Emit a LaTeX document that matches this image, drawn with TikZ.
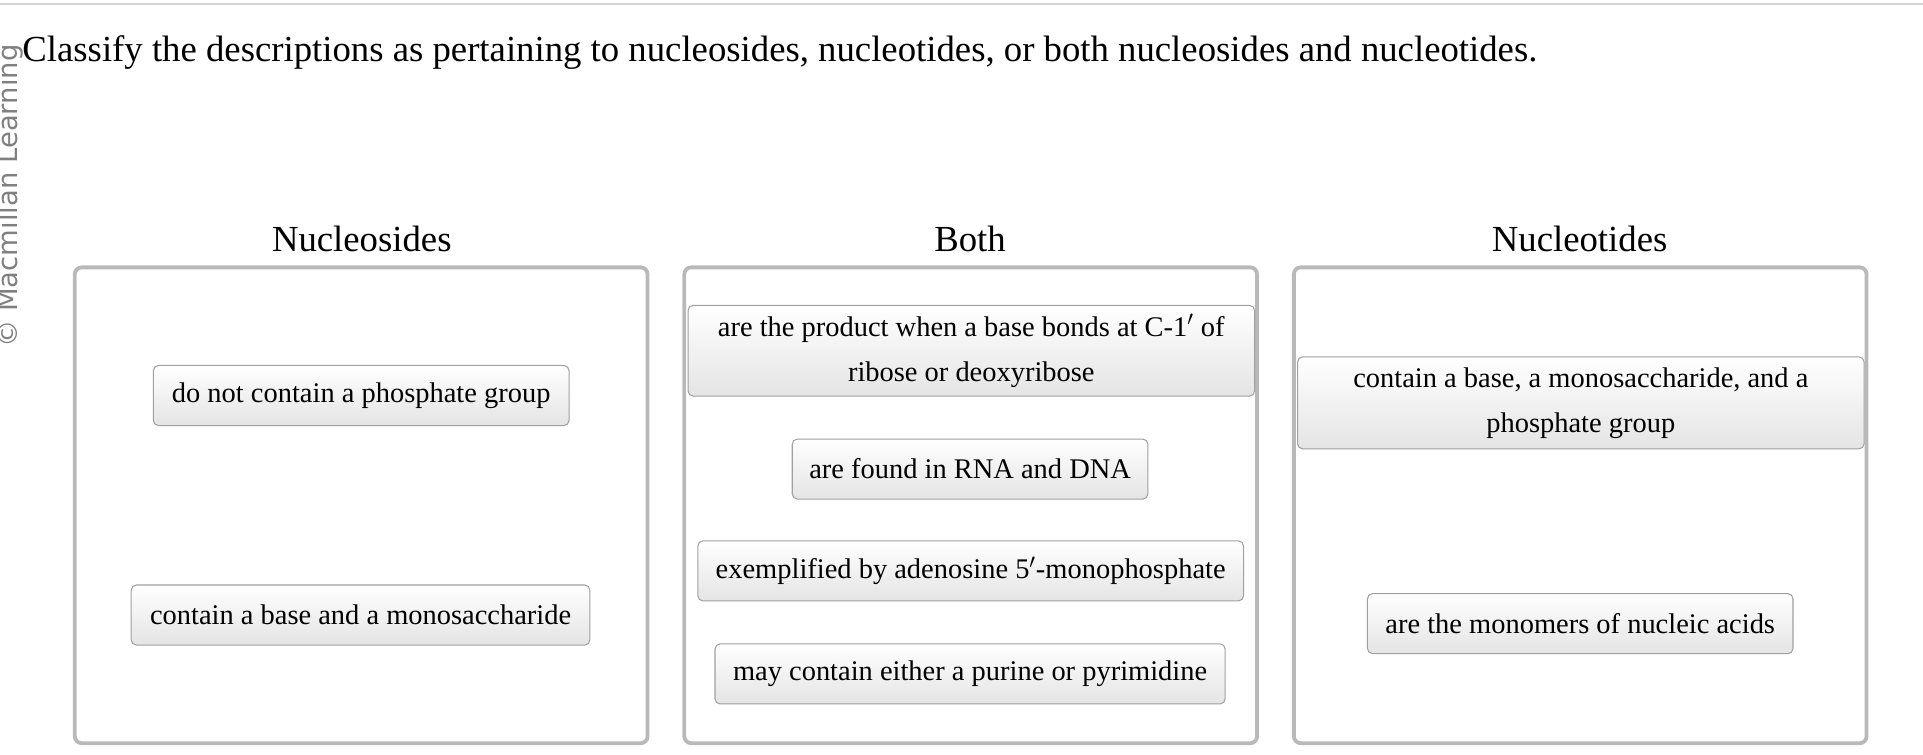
\documentclass[tikz,border=0pt]{standalone}
\usepackage{fontspec}
\setmainfont{Liberation Serif}
\newfontfamily\wmfont{DejaVu Sans}
\usetikzlibrary{positioning}
\definecolor{bordergray}{RGB}{185,185,185}
\definecolor{cardgray}{RGB}{160,160,160}
\definecolor{cardbot}{RGB}{228,228,228}
\tikzset{
  column/.style={draw=bordergray, line width=2.2pt, rounded corners=4pt},
  card/.style={draw=cardgray, line width=0.6pt, rounded corners=3pt, top color=white, bottom color=cardbot,
    font=\fontsize{16.5}{26}\selectfont, align=center, inner sep=0pt},
  header/.style={font=\fontsize{21.3}{24}\selectfont}
}
\begin{document}
\begin{tikzpicture}[x=0.025cm, y=-0.025cm]
\useasboundingbox (0,0) rectangle (1568,615.6);
%top rule
\draw[bordergray!60, line width=1pt] (0,3) -- (1568,3);

%watermark and question
\node[rotate=90, text=gray, font=\wmfont\fontsize{15.9}{18}\selectfont] (wm) at (8,160) {\copyright\ Macmillan Learning};
\node[anchor=base west, font=\fontsize{21.3}{24}\selectfont, inner sep=0pt] (question) at (18,50) {Classify the descriptions as pertaining to nucleosides, nucleotides, or both nucleosides and nucleotides.};

%columns
\draw[column] (61,218) rectangle (528,606);
\draw[column] (558,218) rectangle (1025,606);
\draw[column] (1055,218) rectangle (1522,606);
\node[header] (hleft) at (295,195) {Nucleosides};
\node[header] (hmid) at (791,195) {Both};
\node[header] (hright) at (1288,195) {Nucleotides};

%nucleosides
\node[card, minimum width=339*0.025cm, minimum height=49*0.025cm] (c1) at (294.5,322.5) {do not contain a phosphate group};
\node[card, minimum width=374*0.025cm, minimum height=49*0.025cm] (c2) at (294,501.5) {contain a base and a monosaccharide};

%both
\node[card, minimum width=462*0.025cm, minimum height=74*0.025cm] (c3) at (792,286) {are the product when a base bonds at C-1$'$ of\\ribose or deoxyribose};
\node[card, minimum width=290*0.025cm, minimum height=49*0.025cm] (c4) at (791,382.5) {are found in RNA and DNA};
\node[card, minimum width=445*0.025cm, minimum height=49*0.025cm] (c5) at (791.5,465.5) {exemplified by adenosine 5$'$-monophosphate};
\node[card, minimum width=416*0.025cm, minimum height=49*0.025cm] (c6) at (791,549.5) {may contain either a purine or pyrimidine};

%nucleotides
\node[card, minimum width=462*0.025cm, minimum height=75*0.025cm] (c7) at (1289,328.5) {contain a base, a monosaccharide, and a\\phosphate group};
\node[card, minimum width=347*0.025cm, minimum height=49*0.025cm] (c8) at (1288.5,508.5) {are the monomers of nucleic acids};
\end{tikzpicture}
\end{document}
